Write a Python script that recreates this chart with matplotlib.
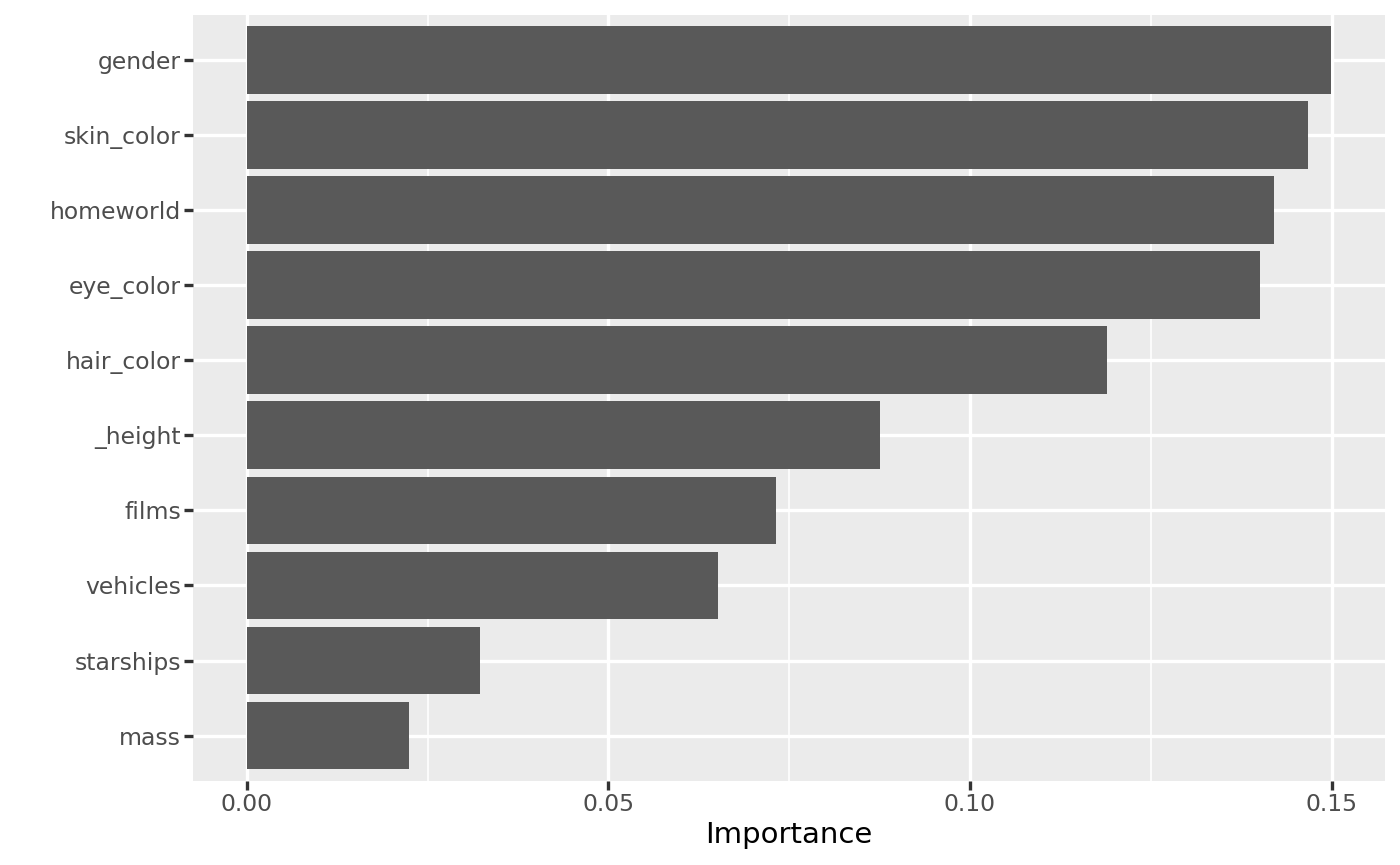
import matplotlib
matplotlib.use("Agg")
import matplotlib.pyplot as plt
import numpy as np

features = ["gender", "skin_color", "homeworld", "eye_color", "hair_color",
            "_height", "films", "vehicles", "starships", "mass"]
importance = [0.1499, 0.1467, 0.1420, 0.1401, 0.1190,
              0.0875, 0.0732, 0.0652, 0.0323, 0.0224]
xticks = [0.00, 0.05, 0.10, 0.15]
xtick_labels = ["0.00", "0.05", "0.10", "0.15"]
minor_ticks = [0.025, 0.075, 0.125]

fig = plt.figure(figsize=(14, 8.65), dpi=100)
ax = fig.add_axes([192.7/1400, 1 - 780.7/865, (1385 - 192.7)/1400, (780.7 - 14.7)/865])
ax.set_facecolor("#EBEBEB")

n = len(features)
ypos = np.arange(n)[::-1] + 1  # gender at top
ax.barh(ypos, importance, height=0.9, color="#595959", zorder=3)

xmax = max(importance)
pad = 0.05 * xmax
ax.set_xlim(-pad, xmax + pad)
ax.set_ylim(0.4, n + 0.6)

ax.set_xticks(xticks)
ax.set_xticklabels(xtick_labels)
ax.set_xticks(minor_ticks, minor=True)
ax.set_yticks(ypos)
ax.set_yticklabels(features)

ax.grid(which="major", color="white", linewidth=2.4, zorder=1)
ax.grid(which="minor", axis="x", color="white", linewidth=1.2, zorder=1)
ax.set_axisbelow(True)

for s in ax.spines.values():
    s.set_visible(False)

ax.tick_params(axis="both", which="major", length=6.5, width=2.4, color="#333333",
               labelcolor="#4D4D4D", labelsize=16.9, pad=2)
ax.tick_params(axis="both", which="minor", length=0)

ax.set_xlabel("Importance", fontsize=21, color="black", labelpad=4)

fig.savefig("out.png", dpi=100, facecolor="white")
